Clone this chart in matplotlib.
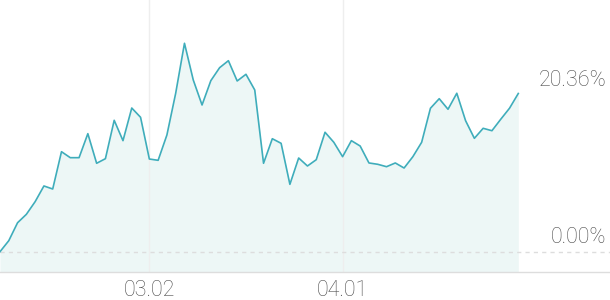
import numpy as np
import matplotlib
matplotlib.use("Agg")
import matplotlib.pyplot as plt

# cumulative return (%) per trading day
returns = [0.00, 1.42, 3.73, 4.81, 6.44, 8.46, 8.07, 12.87, 12.10, 12.10,
           15.19, 11.38, 11.97, 16.91, 14.29, 18.49, 17.30, 11.93, 11.76, 15.02,
           20.39, 26.82, 22.10, 18.88, 22.01, 23.68, 24.58, 21.97, 22.83, 20.81,
           11.38, 14.54, 13.95, 8.67, 12.06, 11.03, 11.84, 15.37, 14.08, 12.23,
           14.29, 13.60, 11.42, 11.25, 10.94, 11.42, 10.77, 12.23, 14.08, 18.46,
           19.69, 18.33, 20.39, 16.86, 14.59, 15.88, 15.57, 17.04, 18.46, 20.36]
tick_pos = [17, 39]
tick_labels = ["03.02", "04.01"]

line_col = "#3fadbb"
fill_col = "#edf7f6"
text_col = "#4d4d4d"
fam = ["Roboto", "DejaVu Sans"]

x = np.arange(len(returns))
y = np.array(returns)

fig = plt.figure(figsize=(6.1, 3.0), dpi=100)
ax = fig.add_axes([0, 28 / 300, 1, 272 / 300])

ax.set_xlim(0, 69.44)
ax.set_ylim(-2.61, 32.39)

ax.fill_between(x, y, -2.61, color=fill_col, lw=0, zorder=1)
ax.plot(x, y, color=line_col, lw=1.2, zorder=3)

for p in tick_pos:
    ax.axvline(p, color="#eeeeee", lw=1, zorder=2)
ax.axhline(0, color="#dddddd", lw=1, ls=(0, (3, 3)), zorder=2)

for s in ["top", "left", "right"]:
    ax.spines[s].set_visible(False)
ax.spines["bottom"].set_color("#dddddd")
ax.spines["bottom"].set_linewidth(1)

ax.set_yticks([])
ax.set_xticks(tick_pos)
ax.set_xticklabels(tick_labels, fontsize=15.5, color=text_col,
                   family=fam, fontweight="light")
ax.tick_params(axis="x", length=0, pad=6)

# end value and zero labels on the right edge
for val, txt, off in [(returns[-1], "%.2f%%" % returns[-1], 1.5), (0, "0.00%", 2.5)]:
    ax.annotate(txt, xy=(0.994, val), xycoords=ax.get_yaxis_transform(),
                xytext=(0, off), textcoords="offset points",
                ha="right", va="bottom", fontsize=15.5, color=text_col,
                family=fam, fontweight="light")

fig.savefig("out.png", dpi=100)
